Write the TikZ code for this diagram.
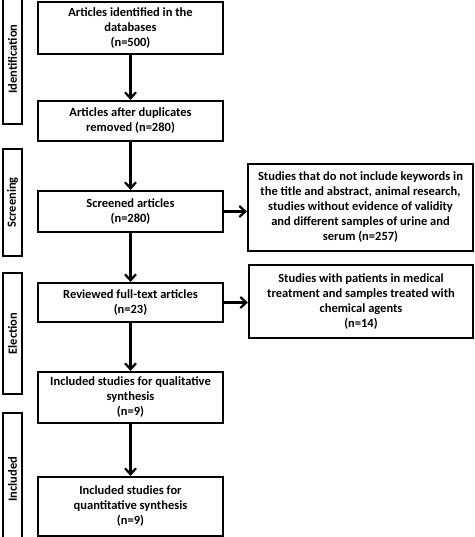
\documentclass[tikz,border=0pt]{standalone}
\usepackage{fontspec}
\setmainfont{Carlito}
\usetikzlibrary{arrows.meta}
\begin{document}
\begin{tikzpicture}[x=1pt,y=-1pt,
  box/.style={draw,line width=2.2pt,align=center,inner sep=1pt,font=\bfseries\fontsize{12.5}{15}\selectfont},
  side/.style={draw,line width=2.2pt,minimum width=19pt,inner sep=0pt},
  sidelab/.style={rotate=90,font=\bfseries\fontsize{12.5}{14}\selectfont},
  flow/.style={line width=2.2pt,-{Straight Barb[length=6pt,width=11pt,line width=2.2pt]}}]
\useasboundingbox (0,0) rectangle (474,537);
\clip (0,0) rectangle (474,537);
\node[box,minimum width=185pt,minimum height=52pt] (b1) at (130.5,28) {Articles identified in the\\databases\\(n=500)};
\node[box,minimum width=185pt,minimum height=40pt] (b2) at (130.5,121) {Articles after duplicates\\removed (n=280)};
\node[box,minimum width=185pt,minimum height=41pt] (b3) at (130.5,211.5) {Screened articles\\(n=280)};
\node[box,minimum width=225pt,minimum height=87pt] (r1) at (360.5,207.5) {Studies that do not include keywords in\\the title and abstract, animal research,\\studies without evidence of validity\\and different samples of urine and\\serum (n=257)};
\node[box,minimum width=185pt,minimum height=39pt] (b4) at (130.5,302.5) {Reviewed full-text articles\\(n=23)};
\node[box,minimum width=224pt,minimum height=73pt] (r2) at (361,301.5) {Studies with patients in medical\\treatment and samples treated with\\chemical agents\\(n=14)};
\node[box,minimum width=185pt,minimum height=51pt] (b5) at (130.5,397.5) {Included studies for qualitative\\synthesis\\(n=9)};
\node[box,minimum width=185pt,minimum height=59pt] (b6) at (130.5,506.5) {Included studies for\\quantitative synthesis\\(n=9)};
\node[side,minimum height=130pt] (s1) at (12.5,59) {};
\node[sidelab] (t1) at (s1.center) {Identification};
\node[side,minimum height=107pt] (s2) at (12.5,202.5) {};
\node[sidelab] (t2) at (s2.center) {Screening};
\node[side,minimum height=121pt] (s3) at (12.5,333.5) {};
\node[sidelab] (t3) at (s3.center) {Election};
\node[side,minimum height=132pt] (s4) at (12.5,479) {};
\node[sidelab] (t4) at (s4.center) {Included};
\draw[flow] (b1) -- (b2);
\draw[flow] (b2) -- (b3);
\draw[flow] (b3) -- (b4);
\draw[flow] (b4) -- (b5);
\draw[flow] (b5) -- (b6);
\draw[flow] (b3.east) -- (b3.east -| r1.west);
\draw[flow] (b4.east) -- (b4.east -| r2.west);
\end{tikzpicture}
\end{document}
